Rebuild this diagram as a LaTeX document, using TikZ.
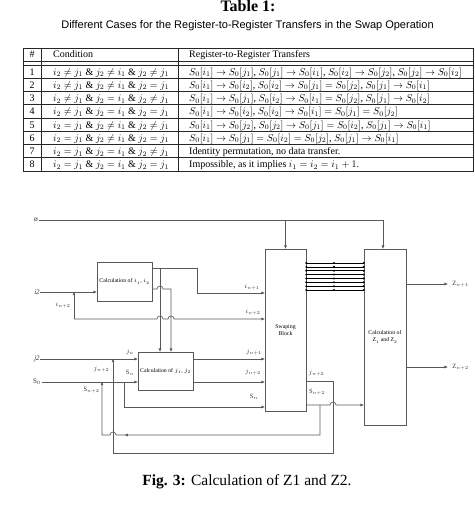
\RequirePackage{fix-cm}
\documentclass[tikz,border=0pt]{standalone}
\usepackage{fontspec}
\setmainfont{Liberation Serif}
\newfontfamily\arialf{Liberation Sans}
\usetikzlibrary{arrows.meta,decorations.markings}
\newcommand{\tabrow}[3]{%
  \pgfmathsetmacro{\rb}{65+13.25*(#1-0.5)+3.5}%
  \node[cell, anchor=base] (n#1) at (32,\rb) {#1};
  \node[cell, anchor=base west] (c#1) at (53,\rb) {#2};
  \node[cell, anchor=base west] (t#1) at (189,\rb) {#3};
}
\tikzset{
  ln/.style={draw=black!65, line width=0.65pt},
  arr/.style={ln, -{Triangle[length=3.2pt,width=2.6pt]}},
  blk/.style={draw=black!65, line width=0.65pt, align=center, inner sep=1pt,
    font=\fontsize{5.8}{7}\selectfont},
  lb/.style={inner sep=0.5pt, font=\fontsize{6.5}{7}\selectfont, text=black!80},
  tbl/.style={draw=black!85, line width=0.8pt},
  cell/.style={inner sep=0pt, font=\fontsize{10}{12}\selectfont},
  midarr/.style={postaction={decorate}, decoration={markings,
    mark=at position #1 with {\arrow{Triangle[length=3.2pt,width=2.6pt]}}}},
}
\begin{document}
\begin{tikzpicture}[x=1pt,y=-1pt]
\useasboundingbox (0,0) rectangle (474,508);
% ---------- Title ----------
\node[anchor=base, inner sep=0pt, font=\fontsize{16}{18}\selectfont\bfseries] (ttl) at (248,11.5) {Table 1:};
\node[anchor=base, inner sep=0pt, font=\arialf\fontsize{11}{13}\selectfont] (sub) at (247.5,28.5)
  {Different Cases for the Register-to-Register Transfers in the Swap Operation};
% ---------- Table frame ----------
\draw[tbl] (23,48) rectangle (473,61);
\draw[tbl] (23,65) rectangle (473,171);
\draw[tbl] (23,61) -- (23,65) (473,61) -- (473,65);
\draw[tbl] (41,48) -- (41,171) (178,48) -- (178,171);
\foreach \k in {1,...,7} {
  \pgfmathsetmacro{\ry}{65+13.25*\k}
  \draw[tbl] (23,\ry) -- (473,\ry);
}
\node[cell, anchor=base] (hn) at (32,58) {\#};
\node[cell, anchor=base west] (hc) at (53,58) {Condition};
\node[cell, anchor=base west] (ht) at (189,58) {Register-to-Register Transfers};
\tabrow{1}{$i_2\neq j_1$ \& $j_2\neq i_1$ \& $j_2\neq j_1$}
  {$S_0[i_1]\rightarrow S_0[j_1]$, $S_0[j_1]\rightarrow S_0[i_1]$, $S_0[i_2]\rightarrow S_0[j_2]$, $S_0[j_2]\rightarrow S_0[i_2]$}
\tabrow{2}{$i_2\neq j_1$ \& $j_2\neq i_1$ \& $j_2= j_1$}
  {$S_0[i_1]\rightarrow S_0[i_2]$, $S_0[i_2]\rightarrow S_0[j_1]=S_0[j_2]$, $S_0[j_1]\rightarrow S_0[i_1]$}
\tabrow{3}{$i_2\neq j_1$ \& $j_2= i_1$ \& $j_2\neq j_1$}
  {$S_0[i_1]\rightarrow S_0[j_1]$, $S_0[i_2]\rightarrow S_0[i_1]=S_0[j_2]$, $S_0[j_1]\rightarrow S_0[i_2]$}
\tabrow{4}{$i_2\neq j_1$ \& $j_2= i_1$ \& $j_2= j_1$}
  {$S_0[i_1]\rightarrow S_0[i_2]$, $S_0[i_2]\rightarrow S_0[i_1]=S_0[j_1]=S_0[j_2]$}
\tabrow{5}{$i_2= j_1$ \& $j_2\neq i_1$ \& $j_2\neq j_1$}
  {$S_0[i_1]\rightarrow S_0[j_2]$, $S_0[j_2]\rightarrow S_0[j_1]=S_0[i_2]$, $S_0[j_1]\rightarrow S_0[i_1]$}
\tabrow{6}{$i_2= j_1$ \& $j_2\neq i_1$ \& $j_2= j_1$}
  {$S_0[i_1]\rightarrow S_0[j_1]=S_0[i_2]=S_0[j_2]$, $S_0[j_1]\rightarrow S_0[i_1]$}
\tabrow{7}{$i_2= j_1$ \& $j_2= i_1$ \& $j_2\neq j_1$}
  {Identity permutation, no data transfer.}
\tabrow{8}{$i_2= j_1$ \& $j_2= i_1$ \& $j_2= j_1$}
  {Impossible, as it implies $i_1=i_2=i_1+1$.}
% ---------- Diagram blocks ----------
\node[blk, minimum width=55pt, minimum height=39pt] (ci) at (124.5,281.5) {Calculation of $i_1$, $i_2$};
\node[blk, minimum width=55pt, minimum height=38pt] (cj) at (165.5,371) {Calculation of $j_1$, $j_2$};
\node[blk, minimum width=41pt, minimum height=162pt] (sw) at (285.5,330) {Swaping\\Block};
\node[blk, minimum width=42pt, minimum height=176pt] (cz) at (385,337) {Calculation of\\Z$_1$ and Z$_2$};
% ---------- phi line ----------
\node[lb, font=\fontsize{7.5}{8}\selectfont] (phi) at (36,220) {ø};
\coordinate (phT) at (383,220);
\draw[ln] (phi.east) -- (phT);
\draw[arr] (phT) -- (phT |- cz.north);
\draw[arr] (sw.north |- phT) -- (sw.north);
% ---------- i inputs ----------
\node[lb, font=\fontsize{7}{8}\selectfont\itshape] (ini) at (37,292) {i2};
\draw[arr] (ini.east) -- (ci.west |- ini);
\coordinate (fi) at (74,319);
\coordinate (fiT) at (74,292);
\draw[arr] (fi) -- (fiT);
\draw[arr] (fi) -- (157,319) arc[start angle=180,end angle=0,radius=3pt]
  -- (168,319) arc[start angle=180,end angle=0,radius=3pt] -- (sw.west |- fi);
\node[lb] (lfi) at (63,305) {$i_{n+2}$};
% outputs of calc i
\coordinate (o1a) at (197,268);
\coordinate (o1b) at (197,293);
\draw[arr] (ci.east |- o1a) -- (o1a) -- (o1b) -- (sw.west |- o1b);
\coordinate (b1) at (160,268);
\draw[arr] (b1) -- (b1 |- cj.north);
\coordinate (o2) at (171,289);
\draw[arr] (ci.east |- o2) -- (157,289) arc[start angle=180,end angle=0,radius=3pt] -- (o2) -- (o2 |- cj.north);
\node[lb] (li1) at (252,287) {$i_{n+1}$};
\node[lb] (li2) at (253,312) {$i_{n+2}$};
% ---------- j / S inputs ----------
\node[lb, font=\fontsize{7}{8}\selectfont\itshape] (inj) at (37,359) {j2};
\node[lb, font=\fontsize{7}{8}\selectfont] (ins) at (37,382) {S$_0$};
\draw[arr] (inj.east) -- (cj.west |- inj);
\draw[arr] (ins.east) -- (cj.west |- ins);
\node[lb] (ljn) at (130,351.5) {$j_n$};
\node[lb] (lsn) at (130,373) {S$_n$};
\node[lb] (ljl) at (101.5,369) {$j_{n+2}$};
\node[lb] (lsl) at (91.5,390) {S$_{n+2}$};
\coordinate (sb) at (124,382);
\coordinate (sb2) at (124,407);
\draw[arr] (sb) -- (sb2) -- (sw.west |- sb2);
\draw[arr] (cj.east |- inj) -- (sw.west |- inj);
\draw[arr] (cj.east |- ins) -- (sw.west |- ins);
\node[lb] (lj1) at (254,352) {$j_{n+1}$};
\node[lb] (lj2) at (253,372.5) {$j_{n+2}$};
\node[lb] (lsn2) at (254,396.5) {S$_n$};
% ---------- swap outputs / feedback ----------
\coordinate (r1) at (333,381);
\coordinate (r1b) at (333,453);
\coordinate (l1b) at (113,453);
\coordinate (l1t) at (113,359);
\draw[arr] (sw.east |- r1) -- (r1) -- (r1b) -- (l1b) -- (l1t);
\coordinate (r2) at (320,405);
\draw[arr] (sw.east |- r2) -- (330,405) arc[start angle=180,end angle=0,radius=3pt] -- (cz.west |- r2);
\coordinate (r2b) at (320,435);
\coordinate (l2b) at (102,435);
\coordinate (l2t) at (102,382);
\draw[arr, midarr=0.74] (r2) -- (r2b) -- (116,435) arc[start angle=0,end angle=180,radius=3pt] -- (l2b) -- (l2t);
\node[lb] (lr1) at (316.5,373.5) {$j_{n+2}$};
\node[lb] (lr2) at (317,392) {S$_{n+2}$};
% ---------- bus ----------
\foreach \k in {0,...,7} {
  \pgfmathsetmacro{\yy}{263+\k*3.86}
  \coordinate (bk) at (334,\yy);
  \draw[black, line width=0.6pt] (sw.east |- bk) -- (cz.west |- bk);
  \fill[black] (sw.east |- bk) circle[radius=1.15pt];
  \fill[black] (bk) circle[radius=1.15pt];
  \fill[black] (cz.west |- bk) circle[radius=1.15pt];
}
% ---------- Z outputs ----------
\node[lb] (z1) at (460.5,284) {Z$_{n+1}$};
\node[lb] (z2) at (460.5,367) {Z$_{n+2}$};
\draw[arr, shorten >=4pt] (cz.east |- z1) -- (z1.west);
\draw[arr, shorten >=4pt] (cz.east |- z2) -- (z2.west);
% ---------- caption ----------
\node[anchor=base, inner sep=0pt, font=\fontsize{15.5}{18}\selectfont] (cap) at (247,485)
  {\textbf{Fig. 3:} Calculation of Z1 and Z2.};
\end{tikzpicture}
\end{document}
